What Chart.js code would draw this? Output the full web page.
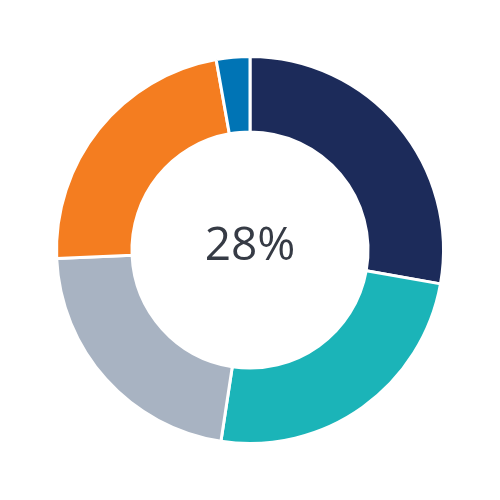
<!DOCTYPE html>
<html>
<head>
<meta charset="utf-8">
<script src="https://cdn.jsdelivr.net/npm/chart.js@4.4.0/dist/chart.umd.min.js"></script>
<style>
    html, body { margin: 0; padding: 0; background: #fff; }
    #wrap { width: 500px; height: 500px; }
</style>
</head>
<body>
<div id="wrap"><canvas id="donutChart"></canvas></div>
<script>
// segments, clockwise from top
const labels = ["Navy", "Teal", "Gray", "Orange", "Blue"];
const values = [27.8, 24.6, 21.9, 22.9, 2.8];
const colors = ["#1c2b5a", "#1bb4b8", "#a8b3c2", "#f47d20", "#0074b5"];
const centerText = "28%";

// draws the big number in the hole
const centerLabel = {
    id: "centerLabel",
    afterDraw(chart) {
        const meta = chart.getDatasetMeta(0);
        if (!meta.data.length) return;
        const { x, y } = meta.data[0];
        const ctx = chart.ctx;
        ctx.save();
        ctx.font = "400 46px 'Open Sans', sans-serif";
        ctx.fillStyle = "#363b45";
        ctx.textAlign = "center";
        ctx.textBaseline = "middle";
        ctx.fillText(centerText, x, y - 3);
        ctx.restore();
    }
};

const ctx = document.getElementById("donutChart").getContext("2d");
new Chart(ctx, {
    type: "doughnut",
    data: {
        labels,
        datasets: [{
            data: values,
            backgroundColor: colors,
            borderColor: "#ffffff",
            borderWidth: 3
        }]
    },
    options: {
        responsive: true,
        maintainAspectRatio: false,
        animation: false,
        cutout: "61%",
        layout: { padding: 55 },
        plugins: {
            legend: { display: false },
            tooltip: { enabled: false }
        }
    },
    plugins: [centerLabel]
});
</script>
</body>
</html>
